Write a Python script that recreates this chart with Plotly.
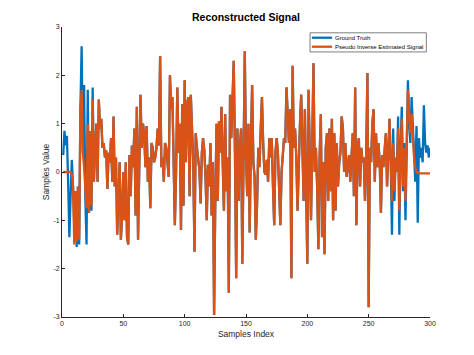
import plotly.graph_objects as go

# ---- data ----
gt_001_025 = [0.35, 0.85, 0.55, 0.75, -0.2, -1.35, -0.5, 0.25, -0.3, -1.1, -0.4, -1.55, -0.3, -1.5, 1.3, 2.6, 0.4, 1.8, -0.5, -1.5, 1.7, -0.85, 0.85, -0.8, 1.75]
gt_026_050 = [-0.2, 0.5, 1.0, -0.2, 1.5, 0.9, 1.1, 0.5, 0.6, 0.3, 0.45, -0.35, 0.4, 0.2, 0.7, -0.2, 1.15, -0.3, 0.3, -1.3, -0.4, 0.2, -1.4, -0.9, 0.0]
gt_051_075 = [-1.0, 0.2, -1.35, -1.5, 0.35, -0.5, 0.55, 0.1, 0.9, -0.9, 1.35, -1.4, 0.7, 1.6, 0.5, 1.0, 0.8, 0.1, 0.95, -0.2, 0.3, -0.75, 0.6, 0.5, 0.2]
gt_076_100 = [0.3, 0.5, 0.9, 0.55, 2.4, 0.1, 0.3, -0.2, 0.6, 0.5, 0.15, -0.1, 2.0, 1.3, 1.55, 0.5, -1.1, 0.0, 1.75, 0.4, 1.0, -1.2, 1.4, -0.7, 1.9]
gt_101_125 = [0.2, 1.4, 1.55, -0.5, 1.6, 0.9, 0.2, -1.65, 0.8, 0.5, 0.3, 0.05, -0.65, 0.4, 0.7, 0.45, -0.1, -1.0, 0.15, -0.3, 0.6, -0.9, 0.2, -2.96, -0.5]
gt_126_150 = [1.0, -0.6, 1.05, 0.4, 1.35, 0.2, -0.8, 1.2, -0.4, 0.3, -2.5, 1.6, 0.7, 1.5, 2.3, 0.4, -2.2, 0.9, -0.6, 0.5, 0.9, -1.9, 0.3, 2.5, 0.3]
gt_151_175 = [-0.5, 1.0, -1.25, 0.6, 1.8, 0.2, -0.1, -1.4, -0.7, 0.5, 0.1, 0.9, 1.55, 0.6, 0.0, -0.05, 0.25, -0.2, 0.7, 0.3, 0.7, -0.3, -1.1, 0.4, 0.7]
gt_176_200 = [0.4, -0.2, -1.1, 0.0, 0.3, 0.7, 0.6, 1.75, 1.2, 0.6, 1.3, -2.2, 2.2, 0.5, 0.9, 0.3, -0.8, 0.4, 1.0, 1.6, 0.2, -0.6, 1.3, -1.0, -1.9]
gt_201_225 = [1.7, 0.3, -1.0, 0.6, 2.25, 0.0, 0.5, -0.3, -1.6, 0.3, 1.2, -1.35, 0.2, -1.7, 0.5, 0.8, -0.6, 0.9, -0.4, 1.1, -1.0, 0.8, -0.8, 0.6, -0.3]
gt_226_250 = [0.2, 0.4, 1.15, 0.9, 0.0, 0.6, -0.1, 0.1, 0.35, -0.2, 0.3, 0.8, -0.5, 1.75, -1.1, 0.5, 0.7, -0.3, 0.5, 0.2, 0.3, -0.6, 0.4, 2.05, -2.8]
gt_251_275 = [0.5, 0.2, 1.0, 1.3, -0.2, 0.8, 0.1, 0.6, 0.2, -0.85, 0.35, 0.1, 0.5, 0.8, -0.3, 0.7, 1.1, 0.2, -1.3, 0.9, -0.6, 0.3, 0.0, 1.15, -1.3]
gt_276_300 = [0.5, 1.35, -0.4, 0.6, -1.0, 0.9, 1.9, 1.0, 0.6, 1.55, 1.1, 0.4, -0.2, 0.95, -1.05, 0.7, 0.3, 0.5, 0.2, 1.38, 0.6, 0.4, 0.55, 0.3, 0.5]

# estimated signal differs from the ground truth only at both ends
est_001_028 = [0, 0, 0, 0, 0, 0, 0, -0.05, -0.3, -1.5, -0.4, -1.45, -0.3, -1.4, 1.3, 1.7, 0.4, 0.1, -0.5, -0.75, 1.0, -0.85, 0.85, -0.7, 1.5, -0.2, 0.5, 1.0]
est_268_300 = [0.2, -0.6, 0.6, -0.4, 0.3, 0.0, 0.9, -0.8, 0.4, 1.1, -0.3, 0.5, -0.6, 0.8, 1.7, 1.3, 0.8, 1.2, 0.6, 0.3, 0.1, 0.0, -0.02,
               -0.03, -0.03, -0.03, -0.03, -0.03, -0.03, -0.03, -0.03, -0.03, -0.03]

series_names = ["Ground Truth", "Pseudo Inverse Estimated Signal"]
series_colors = ["#0072BD", "#D95319"]
x_ticks = [0, 50, 100, 150, 200, 250, 300]
y_ticks = [-3, -2, -1, 0, 1, 2, 3]

ground_truth = (gt_001_025 + gt_026_050 + gt_051_075 + gt_076_100 + gt_101_125 + gt_126_150 +
                gt_151_175 + gt_176_200 + gt_201_225 + gt_226_250 + gt_251_275 + gt_276_300)
estimated = est_001_028 + ground_truth[28:267] + est_268_300
samples = list(range(1, len(ground_truth) + 1))
assert len(ground_truth) == 300 and len(estimated) == 300

FONT = "Liberation Sans, Arial, sans-serif"
AX = "#262626"

fig = go.Figure()
for name, color, vals in zip(series_names, series_colors, [ground_truth, estimated]):
    fig.add_trace(go.Scatter(x=samples, y=vals, mode="lines", name=name,
                             line=dict(color=color, width=2.3), showlegend=False))

axis_common = dict(showgrid=False, zeroline=False, showline=True, linecolor=AX, linewidth=0.8,
                   ticks="inside", ticklen=3, tickcolor=AX, tickwidth=0.8,
                   tickfont=dict(family=FONT, size=7, color=AX), mirror=False)

# compact MATLAB-style legend (paper coordinates)
shapes = [dict(type="rect", xref="paper", yref="paper", x0=0.674, x1=0.99, y0=0.914, y1=0.980,
               line=dict(color=AX, width=0.6), fillcolor="white", layer="above")]
annotations = []
for i, (name, color) in enumerate(zip(series_names, series_colors)):
    yy = 0.963 - i * 0.031
    shapes.append(dict(type="line", xref="paper", yref="paper", x0=0.679, x1=0.734, y0=yy, y1=yy,
                       line=dict(color=color, width=2.3), layer="above"))
    annotations.append(dict(xref="paper", yref="paper", x=0.736, y=yy, xanchor="left", yanchor="middle",
                            text=name, showarrow=False,
                            font=dict(family=FONT, size=6, color="black")))

fig.update_layout(
    width=474, height=355,
    margin=dict(l=62, r=44, t=27, b=38),
    paper_bgcolor="white", plot_bgcolor="white",
    title=dict(text="<b>Reconstructed Signal</b>", x=246 / 474, xanchor="center",
               y=1 - 17 / 355, yanchor="middle",
               font=dict(family=FONT, size=10.5, color="black")),
    xaxis=dict(range=[0, 300], tickvals=x_ticks, ticktext=[str(v) for v in x_ticks],
               title=dict(text="Samples Index", font=dict(family=FONT, size=8.5, color=AX), standoff=4),
               **axis_common),
    yaxis=dict(range=[-3, 3], tickvals=y_ticks, ticktext=[str(v) for v in y_ticks],
               title=dict(text="Samples Value", font=dict(family=FONT, size=8.5, color=AX), standoff=2),
               **axis_common),
    shapes=shapes,
    annotations=annotations,
    showlegend=False,
)

fig.write_html("out.html")
